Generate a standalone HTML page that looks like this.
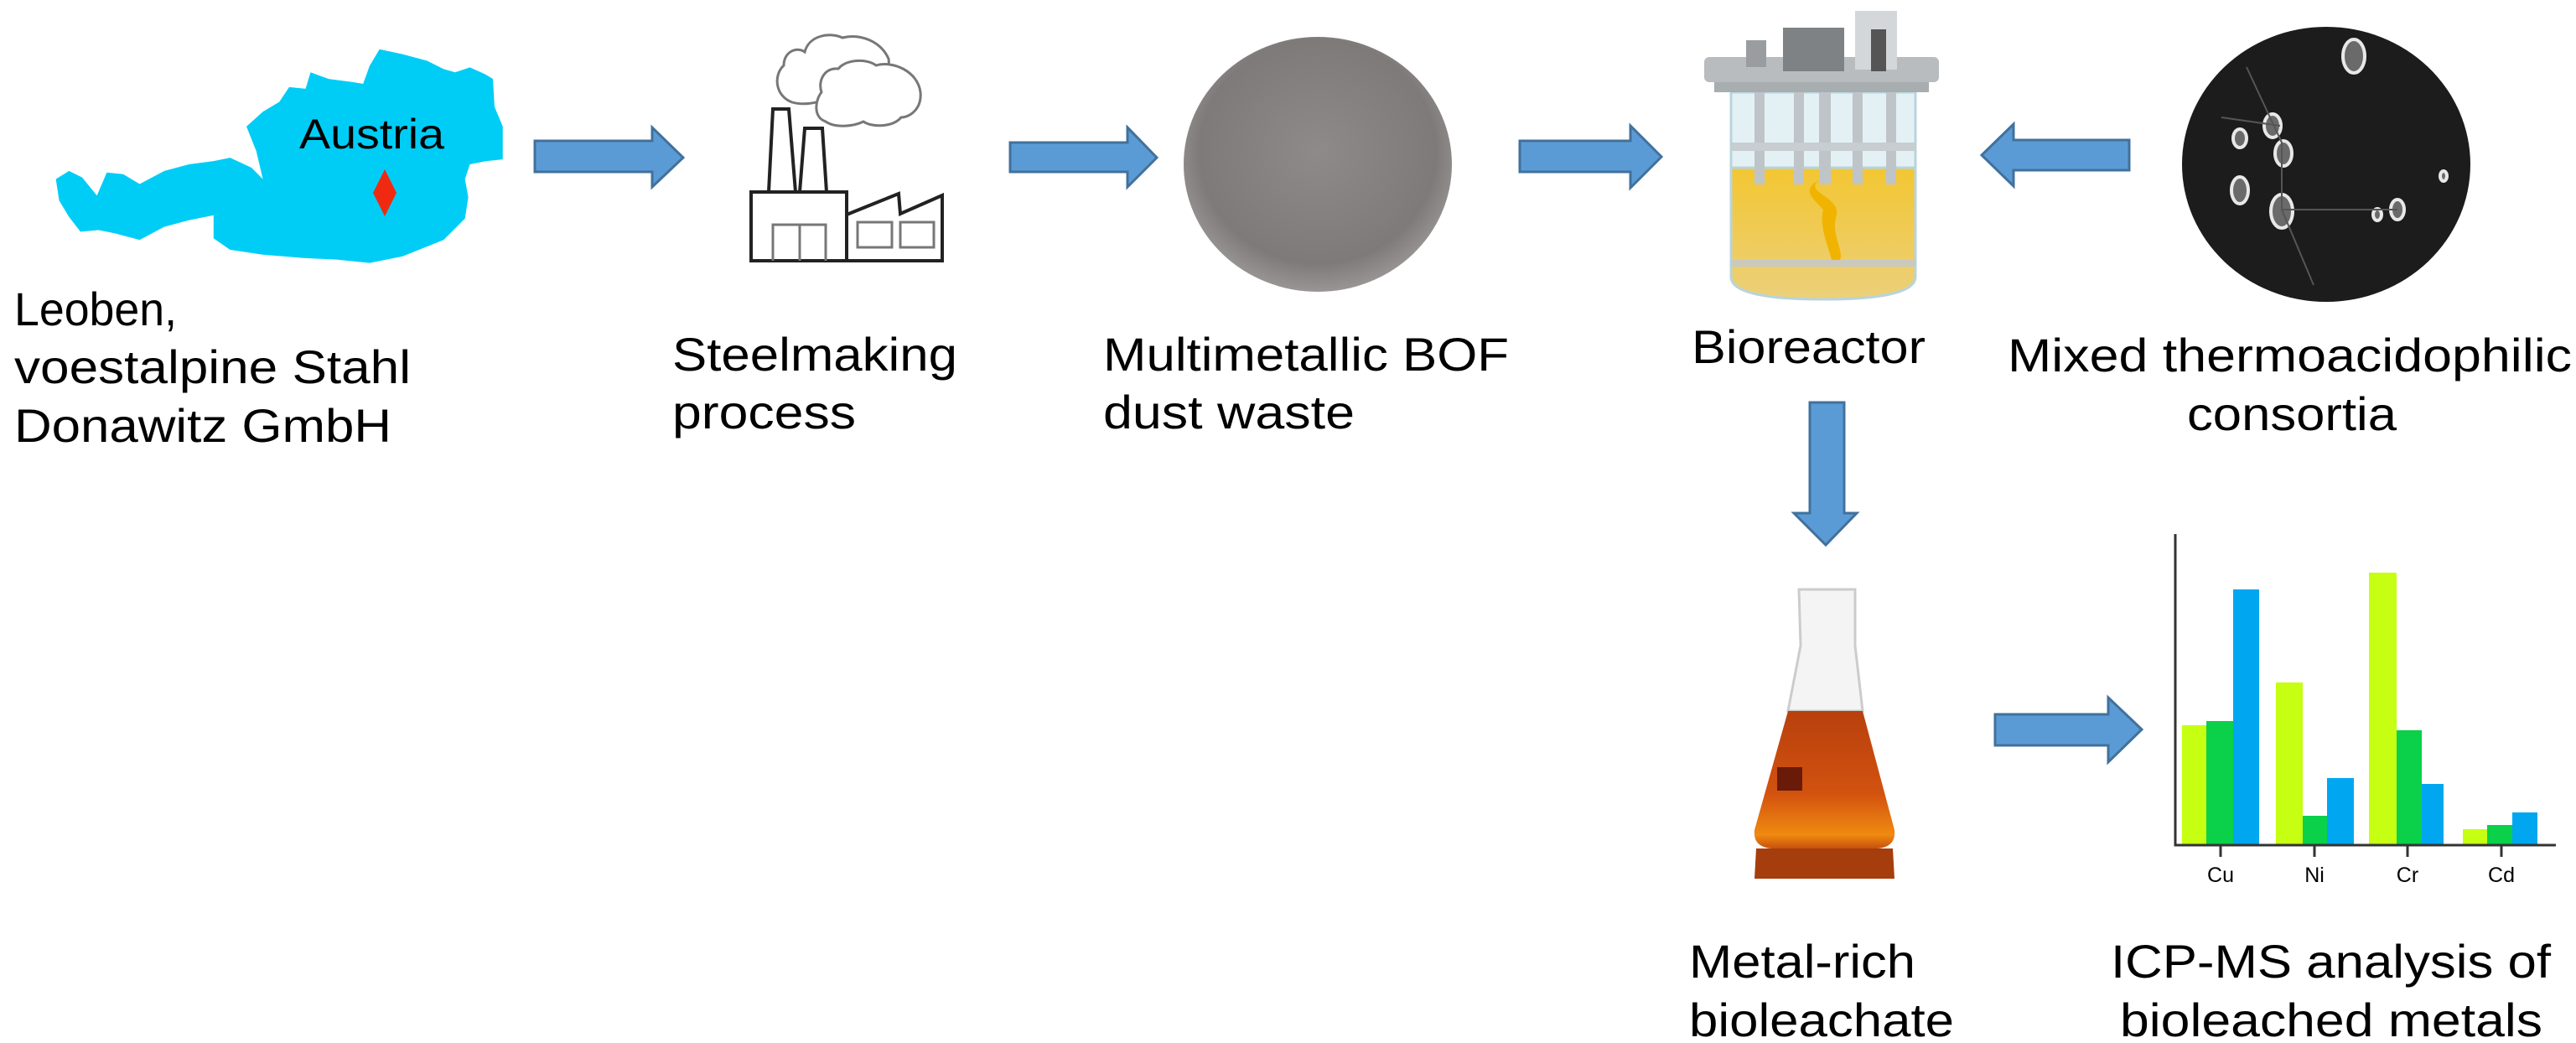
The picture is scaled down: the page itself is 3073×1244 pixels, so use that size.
<!DOCTYPE html>
<html><head><meta charset="utf-8"><style>
html,body{margin:0;padding:0;background:#fff;}
svg{display:block}
text{font-family:"Liberation Sans",Arial,sans-serif;fill:#000}
</style></head><body>
<svg width="3073" height="1244" viewBox="0 0 3073 1244" xmlns="http://www.w3.org/2000/svg">
<defs>
<radialGradient id="dust" cx="0.5" cy="0.45" r="0.55">
<stop offset="0" stop-color="#8f8a8a"/><stop offset="0.8" stop-color="#7f7a7a"/><stop offset="1" stop-color="#9a9595"/>
</radialGradient>
<linearGradient id="liq" x1="0" y1="0" x2="0" y2="1">
<stop offset="0" stop-color="#b8400e"/><stop offset="0.6" stop-color="#d2520f"/><stop offset="0.9" stop-color="#f08a10"/><stop offset="1" stop-color="#c8500e"/>
</linearGradient>
<linearGradient id="yel" x1="0" y1="0" x2="0" y2="1">
<stop offset="0" stop-color="#f3c632"/><stop offset="1" stop-color="#ecd07a"/>
</linearGradient>
</defs>

<!-- Austria map -->
<g transform="scale(1.96)">
<polygon fill="#00cdf6" points="34,109 42,104 50,108 59,119 65,105 75,106 85,112 100,104 115,100 130,98 140,96 153,102 160,109 156,92 150,77 160,68 170,62 176,53 186,54 189,44 200,48 215,50 221,51 225,40 231,30 245,33 260,37 270,42 277,44 286,41 295,45 300,48 301,65 306,77 306,97 296,98 286,100 283,109 285,120 283,133 276,140 270,146 260,150 245,156 225,160 205,158 185,157 160,155 140,152 130,145 130,131 115,134 100,138 85,146 70,142 60,140 49,141 42,132 36,122"/>
</g>
<text x="357" y="177" font-size="50" textLength="173" lengthAdjust="spacingAndGlyphs">Austria</text>
<polygon fill="#f02a10" points="459,202 473,230 459,258 445,230"/>

<!-- arrows -->
<g fill="#5b9bd5" stroke="#41719c" stroke-width="3">
<polygon points="638,168 778,168 778,152 815,188 778,223 778,205 638,205"/>
<polygon points="1205,170 1345,170 1345,152 1380,188 1345,223 1345,205 1205,205"/>
<polygon points="1813,168 1945,168 1945,150 1982,187 1945,224 1945,205 1813,205"/>
<polygon points="2540,167 2402,167 2402,148 2364,185 2402,222 2402,203 2540,203"/>
<polygon points="2159,480 2200,480 2200,612 2215,612 2178,650 2140,612 2159,612"/>
<polygon points="2380,852 2515,852 2515,832 2555,870 2515,909 2515,889 2380,889"/>
</g>

<!-- factory -->
<g fill="none" stroke="#222" stroke-width="4">
<rect x="896" y="229" width="114" height="82" fill="#fff"/>
<path d="M1010,256 L1072,231 L1074,255 L1124,233 L1124,311 L1010,311"/>
<path d="M917,229 L922,130 L941,130 L949,229 M954,229 L960,153 L981,153 L986,229"/>
</g>
<g fill="none" stroke="#777" stroke-width="3">
<path d="M922,311 L922,268 L985,268 L985,311 M954,268 L954,311"/>
<rect x="1023" y="265" width="41" height="30"/><rect x="1074" y="265" width="40" height="30"/>
<path d="M945,122 C925,115 922,90 935,78 C935,62 950,55 960,62 C965,42 990,38 1005,45 C1025,40 1050,48 1060,70 C1062,85 1055,95 1050,100 C1040,118 1000,122 990,115 C975,125 955,125 945,122 Z" fill="#fff"/>
<path d="M985,145 C970,140 972,120 980,110 C975,95 985,80 1000,82 C1010,70 1035,70 1045,78 C1065,72 1095,85 1098,110 C1100,130 1085,140 1075,140 C1065,152 1040,152 1030,145 C1015,152 995,152 985,145 Z" fill="#fff"/>
</g>

<!-- dust pile -->
<ellipse cx="1572" cy="196" rx="160" ry="152" fill="url(#dust)"/>

<!-- bioreactor -->
<g>
<rect x="2065" y="110" width="220" height="110" fill="#e4f1f4" stroke="#b8d4dc" stroke-width="3"/>
<path d="M2065,200 L2285,200 L2285,330 Q2285,357 2175,357 Q2065,357 2065,330 Z" fill="url(#yel)" stroke="#b8d4dc" stroke-width="3"/>
<g fill="#bfc4c8"><rect x="2093" y="110" width="12" height="110"/><rect x="2140" y="110" width="12" height="110"/><rect x="2170" y="110" width="14" height="110"/><rect x="2210" y="110" width="12" height="110"/><rect x="2250" y="110" width="12" height="110"/></g>
<rect x="2065" y="170" width="220" height="10" fill="#c7cdd1"/>
<rect x="2065" y="310" width="220" height="8" fill="#c9c9c0"/>
<path d="M2170,215 C2150,230 2200,235 2190,260 C2185,280 2200,300 2195,310 L2185,310 C2180,290 2170,270 2175,250 C2160,235 2150,225 2170,215 Z" fill="#f0b400"/>
<rect x="2033" y="68" width="280" height="30" rx="6" fill="#b8bcbf"/>
<rect x="2045" y="98" width="256" height="12" fill="#a8adb0"/>
<rect x="2083" y="48" width="24" height="32" fill="#9a9da0"/>
<rect x="2127" y="33" width="73" height="52" fill="#7e8285"/>
<rect x="2213" y="13" width="50" height="70" fill="#d4d7d9"/>
<rect x="2232" y="35" width="18" height="50" fill="#555"/>
</g>

<!-- micrograph -->
<ellipse cx="2775" cy="196" rx="172" ry="164" fill="#1c1c1c"/>
<g fill="#6a6a6a" stroke="#e8e8e8" stroke-width="4">
<ellipse cx="2808" cy="67" rx="13" ry="20"/>
<ellipse cx="2711" cy="150" rx="10" ry="14"/>
<ellipse cx="2672" cy="165" rx="8" ry="11"/>
<ellipse cx="2724" cy="183" rx="10" ry="15"/>
<ellipse cx="2672" cy="227" rx="10" ry="16"/>
<ellipse cx="2722" cy="252" rx="13" ry="20"/>
<ellipse cx="2860" cy="250" rx="8" ry="12"/>
<ellipse cx="2836" cy="256" rx="5" ry="7"/>
<ellipse cx="2915" cy="210" rx="4" ry="6"/>
</g>
<g stroke="#555" stroke-width="2" fill="none"><path d="M2680,80 L2722,170 L2722,250 L2760,340 M2722,250 L2860,250 M2650,140 L2720,150"/></g>

<!-- flask -->
<path d="M2146,703 L2213,703 L2213,770 L2222,848 L2133,848 L2148,770 Z" fill="#f4f4f4" stroke="#ccc" stroke-width="3"/>
<path d="M2133,848 L2222,848 L2260,990 Q2262,1010 2240,1012 L2113,1012 Q2091,1010 2093,990 Z" fill="url(#liq)"/>
<rect x="2120" y="915" width="30" height="28" fill="#6a1a08"/>
<path d="M2095,1012 L2258,1012 L2260,1048 L2093,1048 Z" fill="#a53d0d"/>

<!-- chart -->
<g>
<rect x="2603" y="865" width="29" height="143" fill="#c6ff12"/>
<rect x="2632" y="860" width="32" height="148" fill="#0ad04a"/>
<rect x="2664" y="703" width="31" height="305" fill="#00a7f0"/>
<rect x="2715" y="814" width="32" height="194" fill="#c6ff12"/>
<rect x="2747" y="973" width="29" height="35" fill="#0ad04a"/>
<rect x="2776" y="928" width="32" height="80" fill="#00a7f0"/>
<rect x="2826" y="683" width="33" height="325" fill="#c6ff12"/>
<rect x="2859" y="871" width="30" height="137" fill="#0ad04a"/>
<rect x="2889" y="935" width="26" height="73" fill="#00a7f0"/>
<rect x="2938" y="989" width="29" height="19" fill="#c6ff12"/>
<rect x="2967" y="984" width="30" height="24" fill="#0ad04a"/>
<rect x="2997" y="969" width="30" height="39" fill="#00a7f0"/>
<path d="M2595,637 L2595,1008 L3049,1008 M2649,1008 L2649,1022 M2761,1008 L2761,1022 M2872,1008 L2872,1022 M2984,1008 L2984,1022" stroke="#333" stroke-width="3" fill="none"/>
<g font-size="25" text-anchor="middle"><text x="2649" y="1052" fill="#444">Cu</text><text x="2761" y="1052" fill="#444">Ni</text><text x="2872" y="1052" fill="#444">Cr</text><text x="2984" y="1052" fill="#444">Cd</text></g>
</g>

<!-- labels -->
<g font-size="56">
<text x="17" y="388" textLength="194" lengthAdjust="spacingAndGlyphs">Leoben,</text>
<text x="17" y="457" textLength="473" lengthAdjust="spacingAndGlyphs">voestalpine Stahl</text>
<text x="17" y="527" textLength="450" lengthAdjust="spacingAndGlyphs">Donawitz GmbH</text>
<text x="802" y="442" textLength="340" lengthAdjust="spacingAndGlyphs">Steelmaking</text>
<text x="802" y="511" textLength="219" lengthAdjust="spacingAndGlyphs">process</text>
<text x="1316" y="442" textLength="484" lengthAdjust="spacingAndGlyphs">Multimetallic BOF</text>
<text x="1316" y="511" textLength="300" lengthAdjust="spacingAndGlyphs">dust waste</text>
<text x="2018" y="433" textLength="279" lengthAdjust="spacingAndGlyphs">Bioreactor</text>
<text x="2395" y="443" textLength="673" lengthAdjust="spacingAndGlyphs">Mixed thermoacidophilic</text>
<text x="2609" y="513" textLength="250" lengthAdjust="spacingAndGlyphs">consortia</text>
<text x="2015" y="1166" textLength="270" lengthAdjust="spacingAndGlyphs">Metal-rich</text>
<text x="2015" y="1236" textLength="316" lengthAdjust="spacingAndGlyphs">bioleachate</text>
<text x="2518" y="1166" textLength="525" lengthAdjust="spacingAndGlyphs">ICP-MS analysis of</text>
<text x="2529" y="1236" textLength="504" lengthAdjust="spacingAndGlyphs">bioleached metals</text>
</g>
</svg>
</body></html>
